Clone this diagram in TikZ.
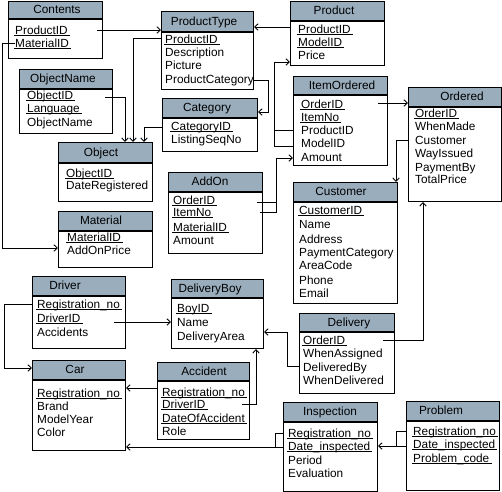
\documentclass[tikz,border=0pt]{standalone}
\usepackage{fontspec}
\setmainfont{Liberation Sans}
\usetikzlibrary{arrows.meta}
\definecolor{hdrcol}{RGB}{153,173,189}
\tikzset{
  hdr/.style={draw, fill=hdrcol, inner sep=0pt, anchor=north west, line width=1pt},
  bodybox/.style={draw, fill=white, inner sep=0pt, anchor=north west, line width=1pt},
  ttl/.style={inner sep=0pt, anchor=base, font=\fontsize{11.8}{13}\selectfont},
  attr/.style={inner sep=0pt, anchor=base west, font=\fontsize{11.8}{13}\selectfont},
  ulline/.style={line width=0.9pt},
  conn/.style={line width=0.9pt},
  arr/.style={conn, -{Straight Barb[length=3.5pt,width=6.5pt]}}
}
\newcommand{\erbox}[6]{%
  \node[hdr, minimum width=#4pt, minimum height=#5pt] (#1H) at (#2,#3) {};
  \node[bodybox, minimum width=#4pt, minimum height=#6pt] (#1B) at (#1H.south west) {};
}
\newcommand{\ulattr}[1]{%
  \draw[ulline] ([yshift=-1.6pt,xshift=-1pt]#1.base west) -- ([yshift=-1.6pt,xshift=2pt]#1.base east);
}
\begin{document}
\begin{tikzpicture}[x=1pt,y=-1pt]
\useasboundingbox (0,0) rectangle (502,491);
\fill[white] (0,0) rectangle (502,491);

% ---------- tables ----------
\erbox{con}{8}{1}{94}{17}{39}
\node[ttl] (conT) at (57,13.5) {Contents};
\node[attr] (conA) at (15,34) {ProductID};
\node[attr] (conB) at (15,47) {MaterialID};
\ulattr{conA}\ulattr{conB}

\erbox{on}{19}{69}{93}{19}{44}
\node[ttl] (onT) at (63,82.5) {ObjectName};
\node[attr] (onA) at (27,99) {ObjectID};
\node[attr] (onB) at (27,112) {Language};
\node[attr] (onC) at (27,126) {ObjectName};
\ulattr{onA}\ulattr{onB}

\erbox{pt}{161}{11}{92}{20}{57}
\node[ttl] (ptT) at (204,25) {ProductType};
\node[attr] (ptA) at (165,43) {ProductID};
\node[attr] (ptB2) at (165,56) {Description};
\node[attr] (ptC) at (165,69) {Picture};
\node[attr] (ptD) at (165,83) {ProductCategory};
\ulattr{ptA}

\erbox{cat}{162}{98}{95}{19}{33}
\node[ttl] (catT) at (207,111.5) {Category};
\node[attr] (catA) at (171,130) {CategoryID};
\node[attr] (catB2) at (171,143) {ListingSeqNo};
\ulattr{catA}

\erbox{prod}{290}{1}{94}{19}{44}
\node[ttl] (prodT) at (334,14.5) {Product};
\node[attr] (prodA) at (298,33) {ProductID};
\node[attr] (prodB2) at (298,46) {ModelID};
\node[attr] (prodC) at (298,59) {Price};
\ulattr{prodA}\ulattr{prodB2}

\erbox{io}{293}{76}{94}{18}{70}
\node[ttl] (ioT) at (342,89) {ItemOrdered};
\node[attr] (ioA) at (301,108) {OrderID};
\node[attr] (ioB2) at (301,121) {ItemNo};
\node[attr] (ioC) at (301,134) {ProductID};
\node[attr] (ioD) at (301,147) {ModelID};
\node[attr] (ioE) at (301,161) {Amount};
\ulattr{ioA}\ulattr{ioB2}

\erbox{ord}{408}{87}{93}{19}{94}
\node[ttl] (ordT) at (462,100.5) {Ordered};
\node[attr] (ordA) at (415,117) {OrderID};
\node[attr] (ordB2) at (415,130) {WhenMade};
\node[attr] (ordC) at (415,144) {Customer};
\node[attr] (ordD) at (415,157) {WayIssued};
\node[attr] (ordE) at (415,171) {PaymentBy};
\node[attr] (ordF) at (415,183) {TotalPrice};
\ulattr{ordA}

\erbox{cust}{293}{182}{104}{19}{101}
\node[ttl] (custT) at (341,195.5) {Customer};
\node[attr] (custA) at (299,214) {CustomerID};
\node[attr] (custB2) at (299,228) {Name};
\node[attr] (custC) at (299,243) {Address};
\node[attr] (custD) at (299,256) {PaymentCategory};
\node[attr] (custE) at (299,269) {AreaCode};
\node[attr] (custF) at (299,284) {Phone};
\node[attr] (custG) at (299,297) {Email};
\ulattr{custA}

\erbox{obj}{58}{142}{94}{20}{38}
\node[ttl] (objT) at (101,156) {Object};
\node[attr] (objA) at (66,177) {ObjectID};
\node[attr] (objB2) at (66,189) {DateRegistered};
\ulattr{objA}

\erbox{mat}{58}{211}{94}{19}{36}
\node[ttl] (matT) at (101,224.5) {Material};
\node[attr] (matA) at (67,241) {MaterialID};
\node[attr] (matB2) at (67,254) {AddOnPrice};
\ulattr{matA}

\erbox{ao}{168}{172}{94}{19}{61}
\node[ttl] (aoT) at (210,185.5) {AddOn};
\node[attr] (aoA) at (173,204) {OrderID};
\node[attr] (aoB2) at (173,216) {ItemNo};
\node[attr] (aoC) at (173,231) {MaterialID};
\node[attr] (aoD) at (173,244) {Amount};
\ulattr{aoA}\ulattr{aoB2}\ulattr{aoC}

\erbox{drv}{32}{276}{93}{19}{52}
\node[ttl] (drvT) at (65,289.5) {Driver};
\node[attr] (drvA) at (37,308) {Registration\_no};
\node[attr] (drvB2) at (37,322) {DriverID};
\node[attr] (drvC) at (37,336) {Accidents};
\ulattr{drvA}\ulattr{drvB2}

\erbox{car}{32}{360}{93}{19}{70}
\node[ttl] (carT) at (75,373.5) {Car};
\node[attr] (carA) at (37,397) {Registration\_no};
\node[attr] (carB2) at (37,410) {Brand};
\node[attr] (carC) at (37,423) {ModelYear};
\node[attr] (carD) at (37,436) {Color};
\ulattr{carA}

\erbox{acc}{157}{362}{92}{18}{58}
\draw[line width=2pt] (accH.south west) -- (accH.south east);
\node[ttl] (accT) at (204,375) {Accident};
\node[attr] (accA) at (162,396) {Registration\_no};
\node[attr] (accB2) at (162,408) {DriverID};
\node[attr] (accC) at (162,422) {DateOfAccident};
\node[attr] (accD) at (162,435) {Role};
\ulattr{accA}\ulattr{accB2}\ulattr{accC}

\erbox{db}{171}{279}{92}{18}{50}
\node[ttl] (dbT) at (210,292) {DeliveryBoy};
\node[attr] (dbA) at (177,312) {BoyID};
\node[attr] (dbB2) at (177,326) {Name};
\node[attr] (dbC) at (177,340) {DeliveryArea};
\ulattr{dbA}

\erbox{del}{299}{313}{95}{18}{61}
\node[ttl] (delT) at (349,326) {Delivery};
\node[attr] (delA) at (303,344) {OrderID};
\node[attr] (delB2) at (303,357) {WhenAssigned};
\node[attr] (delC) at (303,371) {DeliveredBy};
\node[attr] (delD) at (303,384) {WhenDelivered};
\ulattr{delA}

\erbox{insp}{283}{402}{94}{19}{69}
\node[ttl] (inspT) at (330,415.5) {Inspection};
\node[attr] (inspA) at (288,437) {Registration\_no};
\node[attr] (inspB2) at (288,450) {Date\_inspected};
\node[attr] (inspC) at (288,464) {Period};
\node[attr] (inspD) at (288,477) {Evaluation};
\ulattr{inspA}\ulattr{inspB2}

\erbox{prob}{406}{401}{93}{19}{69}
\node[ttl] (probT) at (441,414.5) {Problem};
\node[attr] (probA) at (413,435) {Registration\_no};
\node[attr] (probB2) at (413,448) {Date\_inspected};
\node[attr] (probC) at (413,462) {Problem\_code};
\ulattr{probA}\ulattr{probB2}\ulattr{probC}

% ---------- connectors ----------
\coordinate (s1) at (97,30);
\draw[arr] (s1) -- (ptH.west |- s1);

\draw[arr] (conB.west |- 0,43) -- (2,43) -- (2,248) -- (matB.west |- 0,248);

\coordinate (s3) at (105,97);
\draw[arr] (s3) -- (125,97) -- (125,0 |- objH.north);

\draw[arr] (ptB.west |- 0,38) -- (133,38) -- (133,0 |- objH.north);

\draw[arr] (catB.west |- 0,127) -- (144,127) -- (144,0 |- objH.north);

\draw[arr] (prodB.west |- 0,27) -- (ptH.east |- 0,27);

\draw[arr] (ptB.east |- 0,80) -- (268,80) -- (268,112) -- (catB.east |- 0,112);

\draw[conn] (ioB.west |- 0,130) -- (274,130);
\draw[arr] (ioB.west |- 0,146) -- (274,146) -- (274,62) -- (prodB.west |- 0,62);

\coordinate (s9a) at (257,202);
\coordinate (s9b) at (260,212);
\draw[conn] (s9a) -- (276,202);
\draw[arr] (s9b) -- (276,212) -- (276,158) -- (ioB.west |- 0,158);

\coordinate (s10) at (378,103);
\draw[arr] (s10) -- (ordH.west |- s10);

\draw[arr] (ordB.west |- 0,140) -- (396,140) -- (396,0 |- custH.north);

\coordinate (s12) at (383,340);
\draw[arr] (s12) -- (423,340) -- (423,0 |- ordB.south);

\draw[arr] (delB.west |- 0,366) -- (287,366) -- (287,332) -- (dbB.east |- 0,332);

\coordinate (s14) at (114,322);
\draw[arr] (s14) -- (dbB.west |- s14);

\draw[arr] (drvB.west |- 0,304) -- (4,304) -- (4,368) -- (carH.west |- 0,368);

\draw[arr] (accB.west |- 0,388) -- (carB.east |- 0,388);

\coordinate (s17) at (242,404);
\draw[arr] (s17) -- (256,404) -- (256,0 |- dbB.south);

\draw[conn] (inspB.west |- 0,433) -- (275,433) -- (275,447);
\draw[arr] (inspB.west |- 0,447) -- (carB.east |- 0,447);

\draw[conn] (probB.west |- 0,431) -- (396,431) -- (396,446);
\draw[arr] (probB.west |- 0,446) -- (inspB.east |- 0,446);
\end{tikzpicture}
\end{document}
